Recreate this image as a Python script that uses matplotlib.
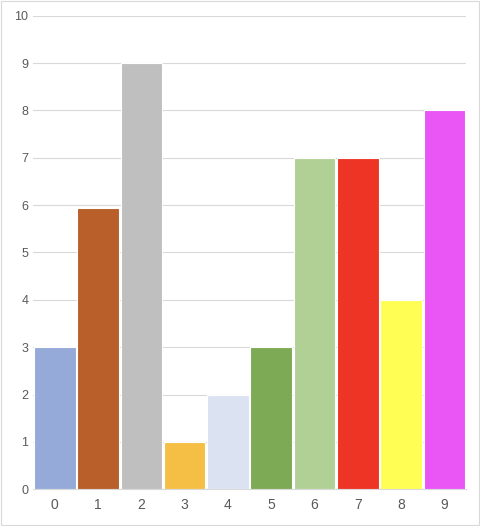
import matplotlib
matplotlib.use("Agg")
import matplotlib.pyplot as plt

categories = ["0", "1", "2", "3", "4", "5", "6", "7", "8", "9"]
values = [3, 5.95, 9, 1, 2, 3, 7, 7, 4, 8]
colors = ["#95aad9", "#b85f2a", "#bfbfbf", "#f5bf45", "#dbe3f2",
          "#7daa55", "#b1d096", "#ee3424", "#fefe55", "#ea55f5"]

plt.rcParams["font.family"] = ["Liberation Sans", "DejaVu Sans"]
fig = plt.figure(figsize=(4.8, 5.26), dpi=100)
ax = fig.add_axes([0.069, 0.07, 0.902, 0.9])

x = range(len(categories))
ax.bar(x, values, width=0.96, color=colors, edgecolor="white", linewidth=0.8, zorder=3)

ax.set_xlim(-0.5, len(categories) - 0.5)
ax.set_ylim(0, 10)
ax.set_yticks(range(11))
ax.set_xticks(list(x))
ax.set_xticklabels(categories)
ax.grid(axis="y", color="#d9d9d9", linewidth=0.8, zorder=0)
for s in ["top", "right", "left"]:
    ax.spines[s].set_visible(False)
ax.spines["bottom"].set_color("#d9d9d9")
ax.tick_params(length=0, colors="#595959", labelsize=9)
ax.tick_params(axis="x", pad=6, labelsize=10)

border = plt.Rectangle((0.002, 0.002), 0.996, 0.996, transform=fig.transFigure,
                       fill=False, edgecolor="#d9d9d9", linewidth=0.8)
fig.patches.append(border)

fig.savefig("out.png", dpi=100)
